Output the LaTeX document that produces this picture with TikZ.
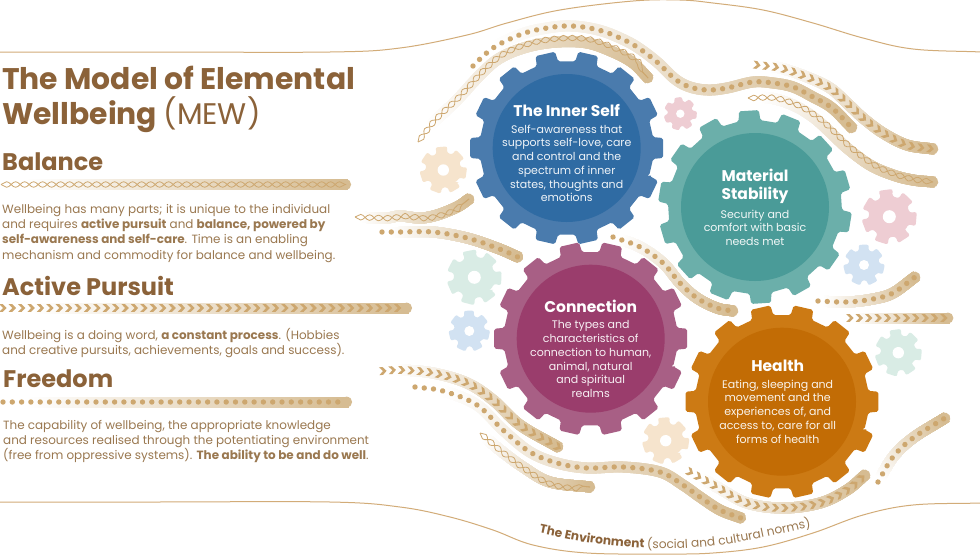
\documentclass[tikz,border=0pt]{standalone}
\usepackage{fontspec}
\setmainfont{Poppins}
\usetikzlibrary{decorations.markings,decorations.pathmorphing,decorations.text}
\definecolor{headbrown}{HTML}{8B6239}
\definecolor{bodybrown}{HTML}{9A7850}
\definecolor{bandtan}{HTML}{D6BC92}
\definecolor{patttan}{HTML}{CDA76F}
\definecolor{linetan}{HTML}{D2AC78}
\definecolor{blueo}{HTML}{4A7BAD}\definecolor{bluei}{HTML}{2F6BA3}
\definecolor{tealo}{HTML}{6BAFAA}\definecolor{teali}{HTML}{4A9B98}
\definecolor{mago}{HTML}{A85F85}\definecolor{magi}{HTML}{9A3D6C}
\definecolor{orao}{HTML}{CC7A14}\definecolor{orai}{HTML}{C26C05}
\definecolor{scream}{HTML}{F6E4CD}\definecolor{spink}{HTML}{EECDD3}
\definecolor{sblue}{HTML}{D2E2F2}\definecolor{smint}{HTML}{D9ECE5}
\newcommand{\gearshape}[9]{%
  \pgfmathsetmacro\dA{360/#5}%
  \fill[rounded corners=1.8pt,#9]
    ({#1+#3*cos(#6-\dA+#7)},{#2-#3*sin(#6-\dA+#7)})
    \foreach \i in {1,...,#5}{
      -- ({#1+#3*cos(#6+(\i-1)*\dA-#7)},{#2-#3*sin(#6+(\i-1)*\dA-#7)})
      -- ({#1+#4*cos(#6+(\i-1)*\dA-#8)},{#2-#4*sin(#6+(\i-1)*\dA-#8)})
      -- ({#1+#4*cos(#6+(\i-1)*\dA+#8)},{#2-#4*sin(#6+(\i-1)*\dA+#8)})
      -- ({#1+#3*cos(#6+(\i-1)*\dA+#7)},{#2-#3*sin(#6+(\i-1)*\dA+#7)})
    } -- cycle;}
\newcommand{\biggear}[5]{%
  \gearshape{#1}{#2}{87}{97}{14}{#3}{7.2}{5.9}{#4}%
  \fill[#5] (#1,#2) circle (74pt);}
\newcommand{\smallgear}[6]{%
  \gearshape{#1}{#2}{#3*0.74}{#3}{7}{#4}{16}{15}{#5,rounded corners=2.4pt}%
  \fill[white] (#1,#2) circle (#6pt);}
% Catmull-Rom path through the points of a list x/y,x/y,...: result in \crp
\newcommand{\crm}[1]{%
  \gdef\crn{0}%
  \foreach \px/\py in {#1}{%
    \pgfmathtruncatemacro\kk{\crn+1}\xdef\crn{\kk}%
    \expandafter\xdef\csname crx\kk\endcsname{\px}%
    \expandafter\xdef\csname cry\kk\endcsname{\py}}%
  \pgfmathtruncatemacro\crnm{\crn-1}\pgfmathtruncatemacro\crnp{\crn+1}%
  \edef\ta{\csname crx1\endcsname}\edef\tb{\csname crx2\endcsname}\pgfmathsetmacro\tc{2*(\ta)-(\tb)}\expandafter\xdef\csname crx0\endcsname{\tc}%
  \edef\ta{\csname cry1\endcsname}\edef\tb{\csname cry2\endcsname}\pgfmathsetmacro\tc{2*(\ta)-(\tb)}\expandafter\xdef\csname cry0\endcsname{\tc}%
  \edef\ta{\csname crx\crn\endcsname}\edef\tb{\csname crx\crnm\endcsname}\pgfmathsetmacro\tc{2*(\ta)-(\tb)}\expandafter\xdef\csname crx\crnp\endcsname{\tc}%
  \edef\ta{\csname cry\crn\endcsname}\edef\tb{\csname cry\crnm\endcsname}\pgfmathsetmacro\tc{2*(\ta)-(\tb)}\expandafter\xdef\csname cry\crnp\endcsname{\tc}%
  \xdef\crp{(\csname crx1\endcsname,\csname cry1\endcsname)}%
  \foreach \ii in {1,...,\crnm}{%
    \pgfmathtruncatemacro\ia{\ii-1}\pgfmathtruncatemacro\ib{\ii+1}\pgfmathtruncatemacro\ic{\ii+2}%
    \edef\xa{\csname crx\ia\endcsname}\edef\xb{\csname crx\ii\endcsname}\edef\xc{\csname crx\ib\endcsname}\edef\xd{\csname crx\ic\endcsname}%
    \edef\ya{\csname cry\ia\endcsname}\edef\yb{\csname cry\ii\endcsname}\edef\yc{\csname cry\ib\endcsname}\edef\yd{\csname cry\ic\endcsname}%
    \pgfmathsetmacro\pa{\xb+((\xc)-(\xa))/6}\pgfmathsetmacro\pb{\yb+((\yc)-(\ya))/6}%
    \pgfmathsetmacro\qa{\xc-((\xd)-(\xb))/6}\pgfmathsetmacro\qb{\yc-((\yd)-(\yb))/6}%
    \xdef\crp{\crp .. controls (\pa,\pb) and (\qa,\qb) .. (\xc,\yc)}%
  }}
\newcommand{\ropeband}[1]{%
  \path[decorate,decoration={markings,
    mark=between positions 0 and 1 step 0.004 with {%
      \pgfmathsetmacro\ff{100*max(0,min(1,(\pgfkeysvalueof{/pgf/decoration/mark info/sequence number}*0.004-0.08)/0.92))}%
      \fill[bandtan!\ff!white] (-2.4pt,-5.5pt) rectangle (2.4pt,5.5pt);},
    mark=at position 0.999 with {\fill[bandtan] (0pt,0pt) circle (5.5pt);}}]
    #1;}
\newcommand{\ropedots}[1]{\ropeband{#1}%
  \path[decorate,decoration={markings,
    mark=between positions 0 and 1 step 9.3pt with {\fill[patttan] (0pt,0pt) circle (2.7pt);}}]
    #1;}
\newcommand{\ropechev}[1]{\ropeband{#1}%
  \path[decorate,decoration={markings,
    mark=between positions 0 and 1 step 9.4pt with {\fill[patttan] (-3.8pt,-3.9pt) -- (-0.2pt,-3.9pt) -- (3.6pt,0pt) -- (-0.2pt,3.9pt) -- (-3.8pt,3.9pt) -- (0pt,0pt) -- cycle;}}]
    #1;}
\newcommand{\ropebraid}[1]{\ropeband{#1}%
  \draw[patttan,line width=.8pt,decorate,decoration={snake,segment length=18pt,amplitude=2.8pt}]
    #1;
  \draw[patttan,line width=.8pt,decorate,decoration={snake,segment length=18pt,amplitude=2.8pt,mirror}]
    #1;}
\tikzset{
  headtxt/.style={anchor=base west,inner sep=0pt,text=headbrown,font=\fontsize{24}{28}\selectfont\bfseries},
  titletxt/.style={anchor=base west,inner sep=0pt,text=headbrown,font=\fontsize{29.8}{35}\selectfont},
  bodytxt/.style={anchor=north west,inner sep=0pt,text=bodybrown,align=left,font=\fontsize{11.95}{15.3}\selectfont},
  geartitle/.style={anchor=center,inner sep=0pt,text=white,align=center,font=\fontsize{15.5}{18}\selectfont\bfseries},
  gearbody/.style={anchor=north,inner sep=0pt,text=white,text opacity=.92,align=center,font=\fontsize{11}{13.75}\selectfont},
  envline/.style={linetan,line width=1pt}
}
\newcommand{\envb}{\fontsize{12.2}{14}\selectfont\bfseries\color{headbrown}}
\newcommand{\envr}{\fontsize{12.2}{14}\selectfont\mdseries\color{bodybrown}}
\begin{document}
\begin{tikzpicture}[x=1pt,y=-1pt]
\useasboundingbox (0,0) rectangle (980,555);
\fill[white] (0,0) rectangle (980,555);
% environment lines
\crm{-2/52,150/52,330/52,400/48,467/35,507/23,560/10,633/1,680/0,713/3,763/10,813/23,863/38,913/49,982/52}
\draw[envline] \crp;
\crm{-2/502,150/502,330/502,400/507,450/517,493/530,533/545,587/553,667/554,713/553,763/547,813/533,863/515,913/505,982/503}
\draw[envline] \crp;
% header ropes
\ropebraid{(1,184.5) -- (346,184.5)}
\ropechev{(3,308) -- (407,308)}
\ropedots{(3,402) -- (347,402)}
% gear ropes
\crm{473/66,480/59,493/48,510/39,528/32,547/28,565/26,583/27,602/31,620/38,637/47,657/62,675/79,690/87,708/90,727/88,753/82,773/83,793/87,813/97,832/108,852/128}
\ropedots{\crp}
\crm{418/142,433/123,457/100,480/75,500/58,527/47,557/42,587/43,613/52,633/63,648/78}
\ropebraid{\crp}
\crm{757/65,780/68,807/77,830/88,847/103,863/118,883/133,907/145,933/149}
\ropechev{\crp}
\crm{748/98,770/98,793/105,813/117,830/132,847/148,870/165,893/175,913/180,933/182}
\ropebraid{\crp}
\crm{355/217,385/218,400/216,420/218,437/215,457/207,469/199}
\ropebraid{\crp}
\crm{382/232,400/232,433/232,467/238,497/248,518/257}
\ropedots{\crp}
\crm{613/237,640/247,663/263,680/283,697/298,717/308,733/311}
\ropedots{\crp}
\crm{818/301,847/302,873/299,893/293,915/277}
\ropedots{\crp}
\ropechev{(850,318) -- (948,318)}
\crm{383/371,400/370,433/373,467/383,493/400,520/425,558/447}
\ropechev{\crp}
\crm{415/387,443/391,477/405,503/430,530/452,557/463,587/468,623/467,660/472,683/485,700/497,720/510,741/518}
\ropedots{\crp}
\crm{480/433,500/450,523/467,550/482,590/487}
\ropebraid{\crp}
\crm{690/472,717/487,747/503,783/508,820/503,847/490,865/475}
\ropechev{\crp}
\crm{878/482,893/457,913/438,945/418}
\ropedots{\crp}
% small gears
\smallgear{443.3}{170}{24}{-8}{scream}{5.7}
\smallgear{680.3}{113.7}{17}{-5}{spink}{4.2}
\smallgear{889.3}{216.7}{28}{-5}{spink}{6.5}
\smallgear{864}{265}{21}{-12}{sblue}{5}
\smallgear{474.3}{277.3}{28}{-2}{smint}{6.5}
\smallgear{469.3}{331}{21}{-12}{sblue}{5}
\smallgear{665.7}{440.7}{24}{-8}{scream}{5.7}
\smallgear{898.3}{352.7}{24}{-5}{smint}{5.7}
% big gears
\biggear{566.7}{148}{0}{blueo}{bluei}
\biggear{755}{207}{16.5}{tealo}{teali}
\biggear{590.7}{338.7}{0}{mago}{magi}
\biggear{782}{401.7}{0}{orao}{orai}
% left texts
\node[titletxt] (t1) at (2,89) {\bfseries The Model of Elemental};
\node[titletxt] (t2) at (2,124) {\bfseries Wellbeing \mdseries (MEW)};
\node[headtxt] (h1) at (2,170) {Balance};
\node[bodytxt] (b1) at (2,204) {\hbox to 328pt{Wellbeing has many parts; it is unique to the individual}\\and requires \textbf{active pursuit} and \textbf{balance, powered by}\\\textbf{self-awareness and self-care}. Time is an enabling\\mechanism and commodity for balance and wellbeing.};
\node[headtxt] (h2) at (2,295) {Active Pursuit};
\node[bodytxt] (b2) at (2,328) {Wellbeing is a doing word, \textbf{a constant process}. (Hobbies\\and creative pursuits, achievements, goals and success).};
\node[headtxt] (h3) at (3,387) {Freedom};
\node[bodytxt] (b3) at (3,420) {The capability of wellbeing, the appropriate knowledge\\and resources realised through the potentiating environment\\(free from oppressive systems). \textbf{The ability to be and do well}.};
% gear texts
\node[geartitle] (g1t) at (566.7,110) {The Inner Self};
\node[gearbody] (g1b) at (566.7,124.5) {Self-awareness that\\supports self-love, care\\and control and the\\spectrum of inner\\states, thoughts and\\emotions};
\node[geartitle] (g2t) at (755,186) {Material\\Stability};
\node[gearbody] (g2b) at (755,209.5) {Security and\\comfort with basic\\needs met};
\node[geartitle] (g3t) at (590.7,306) {Connection};
\node[gearbody] (g3b) at (590.7,320.5) {The types and\\characteristics of\\connection to human,\\animal, natural\\and spiritual\\realms};
\node[geartitle] (g4t) at (777.7,365.7) {Health};
\node[gearbody] (g4b) at (777.7,379.5) {Eating, sleeping and\\movement and the\\experiences of, and\\access to, care for all\\forms of health};
% curved caption
\crm{539/533,590/543,643/548,690/548,740/542,806/528,830/521}
\path[decorate,decoration={text along path,text format delimiters={|}{|},
  text={|\envb|The Environment|| |\envr|(social and cultural norms)}}] \crp;
\end{tikzpicture}
\end{document}
